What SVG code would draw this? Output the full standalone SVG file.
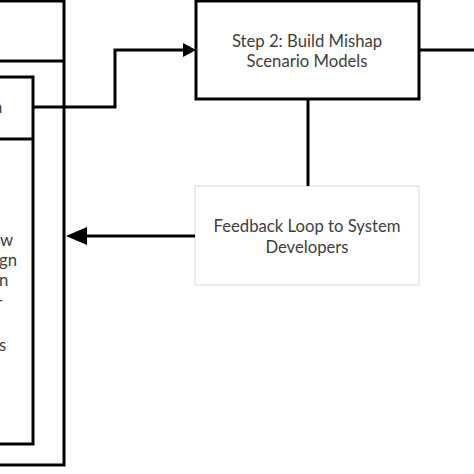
<svg xmlns="http://www.w3.org/2000/svg" width="474" height="474" viewBox="0 0 474 474">
<style>
.box{fill:#fff;stroke:#000;stroke-width:3}
.lbox{fill:#fff;stroke:#d9d9d9;stroke-width:1}
.ln{fill:none;stroke:#000;stroke-width:3}
.t{font-family:Lato,"Open Sans","Liberation Sans",sans-serif;font-size:16.7px;fill:#404040;text-anchor:middle}
.tl{font-family:Lato,"Open Sans","Liberation Sans",sans-serif;font-size:16.7px;fill:#404040}
</style>
<rect width="474" height="474" fill="#fff"/>
<g id="outer">
<rect class="box" x="-10" y="1" width="74" height="464"/>
<line class="ln" x1="-10" y1="61" x2="64" y2="61"/>
</g>
<g id="inner">
<rect class="box" x="-10" y="77" width="43" height="367"/>
<line class="ln" x1="-10" y1="139" x2="33" y2="139"/>
<text class="tl" x="-7" y="113">n</text>
<text class="tl" x="0" y="246">w</text>
<text class="tl" x="-1" y="266">gn</text>
<text class="tl" x="-1" y="286">n</text>
<text class="tl" x="-3" y="306">-</text>
<text class="tl" x="-1" y="351">s</text>
</g>
<g id="step2">
<rect class="box" x="196" y="1" width="223" height="98"/>
<text class="t" x="307" y="47">Step 2: Build Mishap</text>
<text class="t" x="307" y="67">Scenario Models</text>
</g>
<g id="feedback">
<rect class="lbox" x="195" y="186" width="224" height="99"/>
<text class="t" x="307" y="232">Feedback Loop to System</text>
<text class="t" x="307" y="253">Developers</text>
</g>
<g id="connectors">
<path class="ln" d="M33,107 H115 V50 H184"/>
<path d="M183,43 L196,50 L183,57 Z" fill="#000"/>
<line class="ln" x1="419" y1="50" x2="474" y2="50"/>
<line class="ln" x1="308" y1="99" x2="308" y2="186"/>
<line class="ln" x1="195" y1="236" x2="84" y2="236"/>
<path d="M87,227 L66,236 L87,245 Z" fill="#000"/>
</g>
</svg>
